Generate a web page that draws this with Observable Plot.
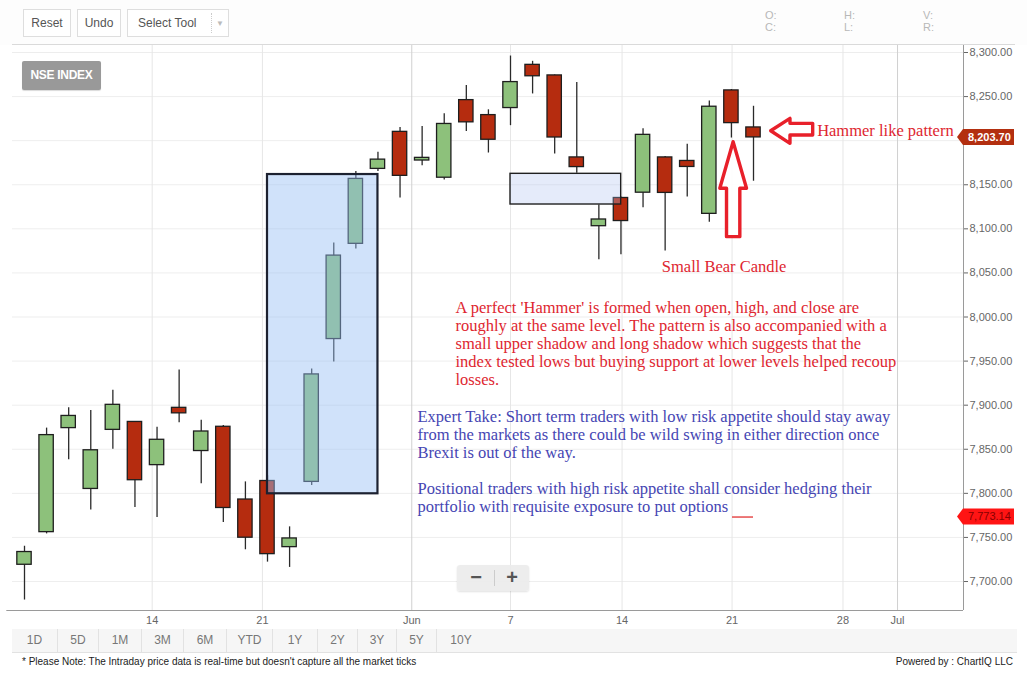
<!DOCTYPE html>
<html>
<head>
<meta charset="utf-8">
<script src="https://cdn.jsdelivr.net/npm/d3@7"></script>
<script src="https://cdn.jsdelivr.net/npm/@observablehq/plot@0.6"></script>
<style>
html,body{margin:0;padding:0;background:#fff;}
#wrap{position:relative;width:1027px;height:676px;overflow:hidden;font-family:"Liberation Sans",Arial,sans-serif;background:#fff;}
#toolbar{position:absolute;left:0;top:0;width:1027px;height:45px;background:#fdfdfd;}
#tbline{position:absolute;left:12px;top:44px;width:1003px;height:1px;background:#dadada;z-index:5;}
.btn{position:absolute;top:9px;height:28px;border:1px solid #dedede;background:#fff;color:#555;font-size:12px;line-height:27px;text-align:center;box-sizing:border-box;}
.ohlc{position:absolute;font-size:11px;color:#b8b8b8;line-height:12px;}
#chart{position:absolute;left:0;top:45px;}
#badge{position:absolute;left:22px;top:61px;width:79px;height:29px;background:#999;color:#fff;font-weight:bold;font-size:12px;line-height:29px;text-align:center;border-radius:2px;letter-spacing:-0.3px;box-shadow:0 1px 1px rgba(0,0,0,0.15);}
#zoombtns{position:absolute;left:457px;top:565px;width:72px;height:26px;background:rgba(236,236,236,0.92);border-radius:3px;box-shadow:0 1px 2px rgba(0,0,0,0.12);}
#zoombtns span{position:absolute;top:0;width:36px;height:26px;line-height:25px;text-align:center;font-size:20px;font-weight:bold;color:#555;}
#zoombtns .sep{position:absolute;left:37px;top:5px;width:1px;height:16px;background:#ccc;}
#ranges{position:absolute;left:12px;top:629px;width:1005px;height:23px;background:#f6f6f6;border-bottom:1px solid #e2e2e2;display:flex;}
#ranges div{box-sizing:border-box;height:23px;line-height:23px;text-align:center;font-size:12px;color:#777;border-right:1px solid #e2e2e2;}
#ranges div:last-child{border-right:none;}
#foot1{position:absolute;left:22px;top:656px;font-size:10px;color:#222;}
#foot2{position:absolute;right:14px;top:656px;font-size:10px;color:#222;}
</style>
</head>
<body>
<div id="wrap">
  <div id="toolbar">
    <div class="btn" style="left:23px;width:48px;">Reset</div>
    <div class="btn" style="left:77px;width:44px;">Undo</div>
    <div class="btn" style="left:127px;width:102px;text-align:left;padding-left:10px;">Select Tool
      <span style="position:absolute;left:83px;top:3px;height:20px;border-left:1px dotted #ccc;"></span>
      <span style="position:absolute;left:88px;top:0;font-size:8px;color:#bbb;">&#9660;</span>
    </div>
    <div class="ohlc" style="left:765px;top:9px;">O:<br>C:</div>
    <div class="ohlc" style="left:844px;top:9px;">H:<br>L:</div>
    <div class="ohlc" style="left:923px;top:9px;">V:<br>R:</div>
  </div>
  <div id="tbline"></div>
  <div id="chart"></div>
  <div id="badge">NSE INDEX</div>
  <div id="zoombtns"><span style="left:1px;">&#8722;</span><div class="sep"></div><span style="left:37px;">+</span></div>
  <div id="ranges"></div>
  <div id="foot1">* Please Note: The Intraday price data is real-time but doesn't capture all the market ticks</div>
  <div id="foot2">Powered by : ChartIQ LLC</div>
</div>
<script>
// ---------- data ----------
const dates = ["2016-05-06","2016-05-09","2016-05-10","2016-05-11","2016-05-12","2016-05-13",
  "2016-05-16","2016-05-17","2016-05-18","2016-05-19","2016-05-20",
  "2016-05-23","2016-05-24","2016-05-25","2016-05-26","2016-05-27",
  "2016-05-30","2016-05-31","2016-06-01","2016-06-02","2016-06-03",
  "2016-06-06","2016-06-07","2016-06-08","2016-06-09","2016-06-10",
  "2016-06-13","2016-06-14","2016-06-15","2016-06-16","2016-06-17",
  "2016-06-20","2016-06-21","2016-06-22"];
const openVals  = [7719, 7756, 7874, 7805, 7872, 7881, 7832, 7897, 7848, 7875.5, 7793,
  7814, 7739, 7813, 7975, 8083, 8168, 8210, 8177.5, 8158, 8246, 8229, 8237, 8286, 8274, 8181,
  8103, 8135, 8141, 8181, 8177, 8117, 8257, 8215];
const highVals  = [7740, 7874, 7897, 7894, 7917, 7881.5, 7875, 7940, 7883, 7877, 7813,
  7820, 7762, 7941, 8084, 8165, 8187, 8215, 8216, 8230.5, 8262.5, 8235, 8296, 8290, 8274.5, 8266,
  8127, 8136, 8213.5, 8182, 8196, 8245, 8258, 8239];
const lowVals   = [7679, 7754, 7838, 7781, 7850, 7784, 7772.5, 7880, 7811, 7767, 7736,
  7722, 7716, 7809, 7949, 8077, 8165, 8135, 8171.5, 8155.5, 8210.5, 8186, 8217, 8253, 8185, 8163,
  8065, 8070.5, 8124, 8075, 8136, 8107.5, 8203, 8154];
const closeVals = [7733.45, 7866.05, 7887.8, 7848.85, 7900.4, 7814.9, 7860.75, 7890.75, 7870.15, 7783.4, 7749.7,
  7731.05, 7748.85, 7934.9, 8069.65, 8156.65, 8178.5, 8160.1, 8180.5, 8218.95, 8220.8, 8201.05, 8266.45, 8273.05, 8203.6, 8170.05,
  8110.6, 8108.85, 8206.6, 8140.75, 8170.2, 8238.5, 8219.9, 8203.7];

const yTicks = [7700, 7750, 7800, 7850, 7900, 7950, 8000, 8050, 8100, 8150, 8200, 8250, 8300];
// x tick positions in trading-day index units, with labels
const xTickPos    = [5.78, 10.77, 17.53, 22, 27.05, 32.03, 37.05, 39.52];
const xTickLabels = ["14", "21", "Jun", "7", "14", "21", "28", "Jul"];
const xTickMonth  = [false, false, true, false, false, false, false, true];

// highlight boxes (trading-day index span, price span)
const boxStart = [11, 22];
const boxEnd   = [16, 27.01];
const boxLow   = [7799.5, 8127.6];
const boxHigh  = [8161.6, 8162.4];

// price tags on the right axis
const tagValues = [8203.70, 7773.14];

const rangeLabels = ["1D","5D","1M","3M","6M","YTD","1Y","2Y","3Y","5Y","10Y"];

const redNote = "A perfect 'Hammer' is formed when open, high, and close are\nroughly at the same level. The pattern is also accompanied with a\nsmall upper shadow and long shadow which suggests that the\nindex tested lows but buying support at lower levels helped recoup\nlosses.";
const blueNote = "Expert Take: Short term traders with low risk appetite should stay away\nfrom the markets as there could be wild swing in either direction once\nBrexit is out of the way.\n\nPositional traders with high risk appetite shall consider hedging their\nportfolio with requisite exposure to put options";

// ---------- build ----------
const candles = dates.map((d, i) => ({i, date: d, open: openVals[i], high: highVals[i], low: lowVals[i], close: closeVals[i]}));
const ups = candles.filter(d => d.close >= d.open);
const downs = candles.filter(d => d.close < d.open);
const boxes = boxStart.map((s, k) => ({start: s, end: boxEnd[k], low: boxLow[k], high: boxHigh[k]}));
const labelMap = new Map(xTickPos.map((p, k) => [p, xTickLabels[k]]));
// axis labels hidden behind a price tag are not drawn (as in the original)
const yLabelTicks = yTicks.filter(t => !tagValues.some(v => Math.abs(v - t) < 9));

const xDomain = [-0.5432, 42.506];
const yDomain = [7667.13, 8307.94];
const bodyHalf = 0.325;
const GREEN = "#8dc17b", RED = "#b52c0f", ANN = "#de2630", BLUE = "#4545b3";
const serif = "'Liberation Serif', 'Times New Roman', serif";
const noteSize = 16.5;

const chart = Plot.plot({
  width: 1027, height: 585,
  marginTop: 0, marginBottom: 20, marginLeft: 12, marginRight: 64,
  x: {type: "linear", domain: xDomain},
  y: {type: "linear", domain: yDomain},
  style: {background: "transparent", fontFamily: "'Liberation Sans', Arial, sans-serif", overflow: "visible"},
  marks: [
    Plot.gridY(yTicks, {stroke: "#000", strokeOpacity: 0.07}),
    Plot.ruleX(xTickPos.filter((d, k) => !xTickMonth[k]), {stroke: "#e6e6e6"}),
    Plot.ruleX(xTickPos.filter((d, k) => xTickMonth[k]), {stroke: "#d0d0d0"}),
    Plot.ruleX(candles, {x: "i", y1: "low", y2: "high", stroke: "#2a2a2a", strokeWidth: 1.3}),
    Plot.rect(ups, {x1: d => d.i - bodyHalf, x2: d => d.i + bodyHalf, y1: "open", y2: "close", fill: GREEN, stroke: "#1e1e1e", strokeWidth: 1.3}),
    Plot.rect(downs, {x1: d => d.i - bodyHalf, x2: d => d.i + bodyHalf, y1: "open", y2: "close", fill: RED, stroke: "#1e1e1e", strokeWidth: 1.3}),
    Plot.rect(boxes.slice(0, 1), {x1: "start", x2: "end", y1: "low", y2: "high", fill: "rgb(150,190,245)", fillOpacity: 0.45, stroke: "#1c2130", strokeWidth: 2.2}),
    Plot.rect(boxes.slice(1), {x1: "start", x2: "end", y1: "low", y2: "high", fill: "rgb(170,190,240)", fillOpacity: 0.3, stroke: "#202020", strokeWidth: 1.4}),
    Plot.ruleX([xDomain[1]], {stroke: "#9a9a9a"}),
    Plot.ruleY([yDomain[0]], {stroke: "#9a9a9a", x1: -0.8, x2: xDomain[1]}),
    Plot.axisY({anchor: "right", ticks: yLabelTicks, tickFormat: ",.2f", tickSize: 4, tickPadding: 2, fontSize: 11, color: "#666", label: null}),
    Plot.axisX({ticks: xTickPos, tickFormat: d => labelMap.get(d), tickSize: 0, tickPadding: 6, fontSize: 11, color: "#666", label: null}),
    Plot.ruleY([tagValues[1]], {x1: 32.05, x2: 33, stroke: "#e02020", strokeWidth: 1.2}),
    Plot.text([redNote], {x: 19.51, y: 7970, text: d => d, textAnchor: "start", lineAnchor: "middle", lineHeight: 18 / noteSize, fill: ANN, fontSize: noteSize, fontFamily: serif}),
    Plot.text([blueNote], {x: 17.79, y: 7836, text: d => d, textAnchor: "start", lineAnchor: "middle", lineHeight: 18 / noteSize, fill: BLUE, fontSize: noteSize, fontFamily: serif}),
    Plot.text(["Small Bear Candle"], {x: 31.67, y: 8057, text: d => d, textAnchor: "middle", fill: ANN, fontSize: noteSize, fontFamily: serif}),
    Plot.text(["Hammer like pattern"], {x: 35.88, y: 8211.5, text: d => d, textAnchor: "start", fill: ANN, fontSize: noteSize, fontFamily: serif})
  ]
});
document.getElementById("chart").append(chart);

// ---------- overlays using the plot's scales ----------
const sx = chart.scale("x"), sy = chart.scale("y");
const svg = d3.select(chart);
const fmt = d3.format(",.2f");
const axisRight = sx.apply(xDomain[1]);
const tagStyles = [{fill: "#b32f10", text: "#fff", weight: "bold"}, {fill: "#ff1414", text: "#8a0000", weight: "normal"}];
tagValues.forEach((v, k) => {
  const y = sy.apply(v);
  const g = svg.append("g");
  g.append("path")
    .attr("d", `M${axisRight - 6},${y} L${axisRight},${y - 8} L${axisRight + 51},${y - 8} L${axisRight + 51},${y + 8} L${axisRight},${y + 8} Z`)
    .attr("fill", tagStyles[k].fill);
  g.append("text").attr("x", axisRight + 5).attr("y", y).attr("dy", "0.35em")
    .attr("text-anchor", "start")
    .attr("font-size", 11).attr("font-weight", tagStyles[k].weight).attr("fill", tagStyles[k].text)
    .text(fmt(v));
});

// outlined arrows (anchored at data points)
const arrows = [
  {i: 32.1, v: 8198.3, shape: [[0,0],[13.4,46.6],[6.7,46.6],[6.7,95],[-6.6,95],[-6.6,46.6],[-13.3,46.6]]},
  {i: 33.8, v: 8210.7, shape: [[0,0],[19.3,-12.4],[19.3,-7.4],[42,-7.4],[42,4.3],[19.3,4.3],[19.3,12.6]]}
];
arrows.forEach(a => {
  const x0 = sx.apply(a.i), y0 = sy.apply(a.v);
  svg.append("path")
    .attr("d", "M" + a.shape.map(p => `${x0 + p[0]},${y0 + p[1]}`).join("L") + "Z")
    .attr("fill", "#fff").attr("fill-opacity", 0.9)
    .attr("stroke", "#e8202a").attr("stroke-width", 3.4).attr("stroke-linejoin", "round");
});

// range selector row
const widths = [46, 41, 43, 42, 43, 46, 45, 40, 39, 40, 48];
const ranges = document.getElementById("ranges");
rangeLabels.forEach((t, k) => {
  const d = document.createElement("div");
  d.style.width = widths[k] + "px";
  d.textContent = t;
  ranges.append(d);
});
</script>
</body>
</html>
